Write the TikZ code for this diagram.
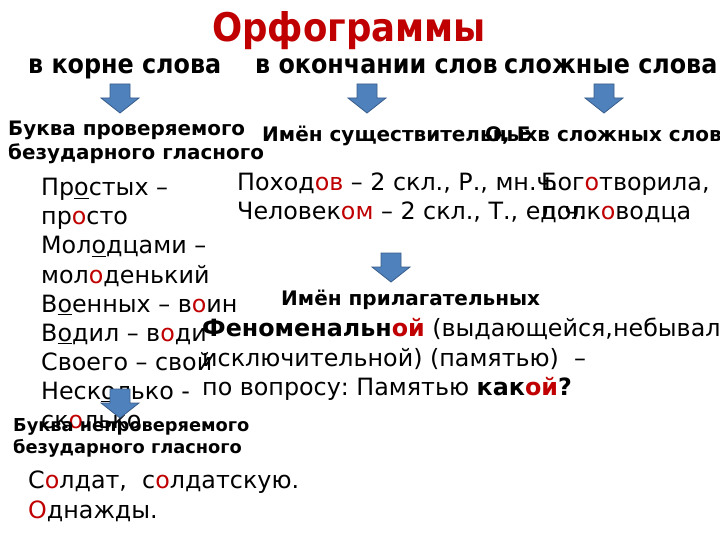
\documentclass[tikz,border=0pt]{standalone}
\usepackage{fontspec}
\setmainfont{DejaVu Sans}
\newfontfamily\condfont{DejaVu Sans Condensed}
\usepackage{xcolor}
\definecolor{ortred}{HTML}{C00000}
\definecolor{arrowblue}{HTML}{4F81BD}
\definecolor{arrowedge}{HTML}{385D8A}
\newcommand{\ro}[1]{\textcolor{ortred}{#1}}
\newcommand{\uo}[1]{\underline{#1}}
\usetikzlibrary{positioning}
\frenchspacing

\begin{document}
\begin{tikzpicture}[x = 1pt, y = -1pt,
  txt/.style = {anchor = base west, inner sep = 0, font = \fontsize{23.8}{28}\selectfont},
  hdr/.style = {anchor = base west, inner sep = 0, font = \condfont\bfseries\fontsize{26.5}{30}\selectfont},
  lbl/.style = {anchor = base west, inner sep = 0, font = \bfseries\fontsize{20}{24}\selectfont},
  blkarrow/.pic = {\draw[fill = arrowblue, draw = arrowedge, line width = 0.8pt]
    (-10, 0) -- (10, 0) -- (10, 14) -- (19, 14) -- (0, 29) -- (-19, 14) -- (-10, 14) -- cycle;}
]
\useasboundingbox (0, 0) rectangle (720, 540);
\clip (0, 0) rectangle (720, 540);

% title and headings
\node[anchor = base, inner sep = 0, text = ortred, font = \condfont\bfseries\fontsize{39.5}{42}\selectfont]
  (title) at (349, 42) {Орфограммы};
\node[hdr] (root) at (28, 74) {в корне слова};
\node[hdr] (ending) at (255, 74) {в окончании слов};
\node[hdr, right = 6pt of ending.base east, anchor = base west] (compound) {сложные слова};

\pic at (120, 84) {blkarrow};
\pic at (367, 84) {blkarrow};
\pic at (604, 84) {blkarrow};

% root column
\node[lbl, font = \bfseries\fontsize{19.9}{24}\selectfont, align = left] (checked) at (8, 160)
  {Буква проверяемого\\безударного гласного};
\node[txt] (r1) at (41, 196) {Пр\uo{о}стых –};
\node[txt] (r2) at (41, 225) {пр\ro{о}сто};
\node[txt] (r3) at (41, 254) {Мол\uo{о}дцами –};
\node[txt] (r4) at (41, 283) {мол\ro{о}денький};
\node[txt] (r5) at (41, 312) {В\uo{о}енных – в\ro{о}ин};
\node[txt] (r6) at (41, 341) {В\uo{о}дил – в\ro{о}ди};
\node[txt] (r7) at (41, 370) {Своего – свой};
\node[txt] (r8) at (41, 399) {Неск\uo{о}лько -};
\node[txt] (r9) at (41, 428) {ск\ro{о}лько};

\pic at (120, 389) {blkarrow};
\node[lbl, font = \bfseries\fontsize{17.8}{22}\selectfont, align = left] (unchecked) at (13, 453)
  {Буква непроверяемого\\безударного гласного};
\node[txt] (u1) at (28, 488) {С\ro{о}лдат, \ с\ro{о}лдатскую.};
\node[txt] (u2) at (28, 518) {\ro{О}днажды.};

% ending column
\node[lbl] (nouns) at (262, 142) {Имён существительных};
\node[txt] (n1) at (237, 191) {Поход\ro{ов} – 2 скл., Р., мн.ч.};
\node[txt] (n2) at (237, 220) {Человек\ro{ом} – 2 скл., Т., ед.ч.};

\pic at (391, 253) {blkarrow};
\node[lbl] (adjs) at (281, 305) {Имён прилагательных};
\node[txt] (a1) at (202, 336) {\textbf{Феноменальн\ro{ой}} (выдающейся,небывалой,};
\node[txt] (a2) at (202, 366) {исключительной) (памятью) \ –};
\node[txt] (a3) at (202, 395) {по вопросу: Памятью \textbf{как\ro{ой}?}};

% compound column
\node[lbl] (compvow) at (485, 142) {О, Е в сложных словах};
\node[txt] (c1) at (541, 191) {Бог\ro{о}творила,};
\node[txt] (c2) at (541, 220) {полк\ro{о}водца};
\end{tikzpicture}
\end{document}
